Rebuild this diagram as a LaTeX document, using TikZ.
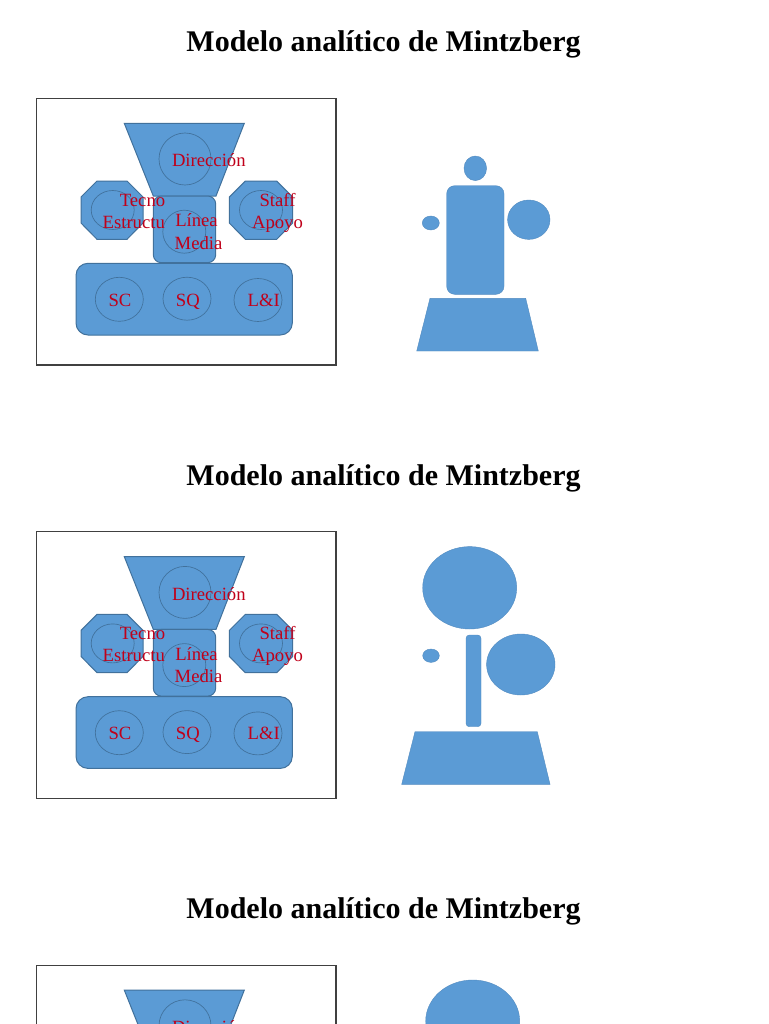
\documentclass[tikz,border=0pt]{standalone}
\usepackage{fontspec}
\setmainfont{Liberation Serif}
\definecolor{fillblue}{HTML}{5B9BD5}
\definecolor{edgeblue}{HTML}{41719C}
\definecolor{txtred}{HTML}{C0001A}
\tikzset{
  framebox/.style={draw={rgb,255:red,64;green,64;blue,64}, line width=0.8pt, fill=white},
  shapeb/.style={draw=edgeblue, line width=0.75pt, fill=fillblue},
  trapb/.style={draw=edgeblue, line width=0.75pt, fill=fillblue},
  innerc/.style={draw=edgeblue, line width=0.5pt},
  solidb/.style={fill=fillblue, draw=fillblue!90!black, line width=0.3pt},
  lbl/.style={font=\fontsize{14}{16}\selectfont, text=txtred, inner sep=0pt, anchor=base},
  ttl/.style={font=\fontsize{22.5}{26}\selectfont\bfseries, inner sep=0pt, anchor=base},
}
\newcommand{\mzshapes}[2]{%
\begin{scope}[shift={(0,#1)}]
  \node[ttl] (title#2) at (383.5,51.7) {Modelo analítico de Mintzberg};
  \draw[framebox] (36.7,98.3) rectangle (336,365);
  % Direccion trapezoid
  \draw[trapb] (124.3,123.3) -- (244.3,123.3) -- (216,196) -- (153.3,196) -- cycle;
  \draw[innerc] (185,159) ellipse [x radius=26, y radius=26];
  % octagons
  \draw[shapeb] (97,181) -- (127,181) -- (143,197) -- (143,223) -- (127,239.3) -- (97,239.3) -- (81,223) -- (81,197) -- cycle;
  \draw[innerc] (112.7,210) ellipse [x radius=21.5, y radius=19.5];
  \draw[shapeb] (245.3,181) -- (276.7,181) -- (292.7,197) -- (292.7,223) -- (276.7,239.3) -- (245.3,239.3) -- (229.3,223) -- (229.3,197) -- cycle;
  \draw[innerc] (261,210) ellipse [x radius=21.5, y radius=19.5];
  % Linea media
  \draw[shapeb, rounded corners=6pt] (153.3,196) rectangle (215.7,262.7);
  \draw[innerc] (184.3,231.7) ellipse [x radius=21.5, y radius=21.5];
  % operating core
  \draw[shapeb, rounded corners=9pt] (76,263.3) rectangle (292.3,335);
  \draw[innerc] (119.3,299.3) ellipse [x radius=24, y radius=22];
  \draw[innerc] (187,298.7) ellipse [x radius=24, y radius=21.5];
  \draw[innerc] (258,300) ellipse [x radius=24, y radius=21.5];
  \node[lbl] (dir#2) at (208.8,166.7) {Dirección};
\end{scope}}
\newcommand{\mztexts}[2]{%
\begin{scope}[shift={(0,#1)}]
  \begin{scope}
    \clip (60,150) rectangle (164.5,245);
    \node[lbl] (tec#2) at (142.5,206) {Tecno};
    \node[lbl] (est#2) at (141,228.3) {Estructura};
  \end{scope}
  \node[lbl] (lin#2) at (196.5,226.7) {Línea};
  \node[lbl] (med#2) at (198.5,249) {Media};
  \node[lbl] (sta#2) at (277.5,206) {Staff};
  \node[lbl] (apo#2) at (277.5,228) {Apoyo};
  \node[lbl] (sc#2) at (120,306.5) {SC};
  \node[lbl] (sq#2) at (187.8,306.5) {SQ};
  \node[lbl] (li#2) at (263.7,306.5) {L\&I};
\end{scope}}
\begin{document}
\begin{tikzpicture}[x=0.75pt,y=-0.75pt]
  \useasboundingbox (0,0) rectangle (768,1024);
  \fill[white] (0,0) rectangle (768,1024);
  \clip (0,0) rectangle (768,1024);
  \mzshapes{0}{a}
  \mztexts{0}{a}
  \mzshapes{433.4}{b}
  \mztexts{433.4}{b}
  \mzshapes{866.8}{c}
  % panel 1 figure
  \fill[solidb] (475.3,168.3) ellipse [x radius=11.3, y radius=12.3];
  \fill[solidb, rounded corners=6pt] (446.7,185.7) rectangle (504,294.3);
  \fill[solidb] (430.8,223) ellipse [x radius=8.5, y radius=7];
  \fill[solidb] (528.8,219.7) ellipse [x radius=21.2, y radius=19.7];
  \fill[solidb] (430,298.3) -- (525.7,298.3) -- (538.3,351) -- (416.7,351) -- cycle;
  % panel 2 figure
  \fill[solidb] (469.7,587.8) ellipse [x radius=47, y radius=41.2];
  \fill[solidb, rounded corners=2.5pt] (466,635) rectangle (481,726.7);
  \fill[solidb] (431,655.7) ellipse [x radius=8.3, y radius=6.7];
  \fill[solidb] (520.8,664.5) ellipse [x radius=34.2, y radius=30.5];
  \fill[solidb] (415,731.7) -- (537.3,731.7) -- (550,784.3) -- (401.7,784.3) -- cycle;
  % panel 3 figure (cut off)
  \fill[solidb] (472.7,1021.2) ellipse [x radius=47, y radius=41.2];
\end{tikzpicture}
\end{document}
